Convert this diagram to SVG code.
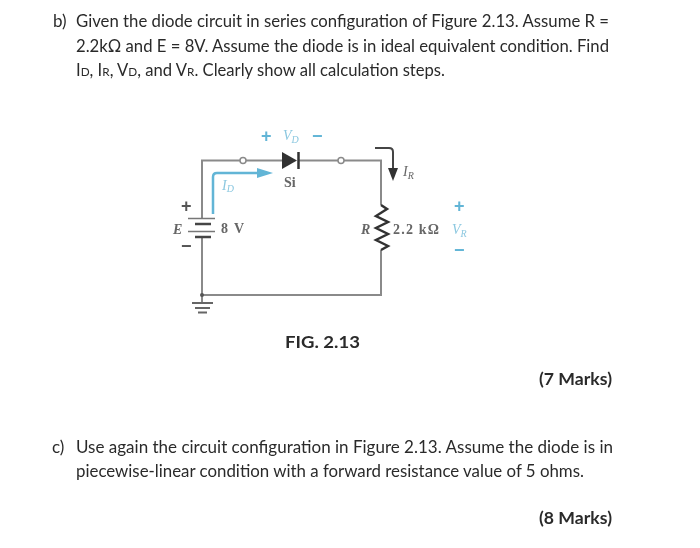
<svg xmlns="http://www.w3.org/2000/svg" width="700" height="548" viewBox="0 0 700 548">
<defs>
<style>
.t{font-family:"Lato","Liberation Sans",sans-serif;font-size:17px;fill:#2a2a2a}
.b{font-weight:700}
.w{fill:none;stroke:#8a8a8a;stroke-width:2}
.s{font-family:"Liberation Serif",serif;font-size:14px;fill:#666}
.i{font-style:italic}
.c{fill:#62b5d6}
.p{font-family:"Liberation Sans",sans-serif;font-weight:700;font-size:18px;fill:#62b5d6}
.k{font-family:"Liberation Sans",sans-serif;font-weight:700;font-size:18px;fill:#555}
.sub{font-size:10px}
</style>
<filter id="soft" x="0" y="0" width="100%" height="100%"><feGaussianBlur stdDeviation="0.4"/></filter>
</defs>
<rect width="700" height="548" fill="#fff"/>
<g filter="url(#soft)">
<g id="question-text">
<text class="t" x="53" y="27">b)</text>
<text class="t" x="76" y="27" textLength="533" lengthAdjust="spacingAndGlyphs">Given the diode circuit in series configuration of Figure 2.13. Assume R =</text>
<text class="t" x="76" y="52" textLength="533" lengthAdjust="spacingAndGlyphs">2.2kΩ and E = 8V. Assume the diode is in ideal equivalent condition. Find</text>
<text class="t" x="76" y="76" textLength="369" lengthAdjust="spacingAndGlyphs">I<tspan font-size="12">D</tspan>, I<tspan font-size="12">R</tspan>, V<tspan font-size="12">D</tspan>, and V<tspan font-size="12">R</tspan>. Clearly show all calculation steps.</text>
<text class="t b" x="539" y="385" textLength="73" lengthAdjust="spacingAndGlyphs">(7 Marks)</text>
<text class="t" x="52" y="453">c)</text>
<text class="t" x="76" y="453" textLength="537" lengthAdjust="spacingAndGlyphs">Use again the circuit configuration in Figure 2.13. Assume the diode is in</text>
<text class="t" x="76" y="477" textLength="508" lengthAdjust="spacingAndGlyphs">piecewise-linear condition with a forward resistance value of 5 ohms.</text>
<text class="t b" x="539" y="524" textLength="73" lengthAdjust="spacingAndGlyphs">(8 Marks)</text>
<text class="t b" x="285" y="348" textLength="75" lengthAdjust="spacingAndGlyphs">FIG. 2.13</text>
</g>
<g id="connectors">
<path class="w" d="M202 218V160.500H240M246 160.500H282M298 160.500H338M344 160.500H381V205M381 250V295H202M202 237V303"/>
</g>
<g id="terminal-1"><circle cx="243" cy="160.500" r="3" fill="#fff" stroke="#8a8a8a" stroke-width="1.500"/></g>
<g id="terminal-2"><circle cx="341" cy="160.500" r="3" fill="#fff" stroke="#8a8a8a" stroke-width="1.500"/></g>
<g id="diode">
<path d="M282 152L297 160.500L282 169Z" fill="#333"/>
<path d="M298.500 152V169" stroke="#333" stroke-width="2.500"/>
<text class="s b" x="284" y="187">Si</text>
<text class="p" x="261" y="142">+</text>
<text class="s i" x="283" y="140" style="fill:#8cc8e0" font-size="15">V<tspan class="sub" dy="3">D</tspan></text>
<text class="p" x="312" y="142">−</text>
</g>
<g id="id-current">
<path d="M213 214V177Q213 173 217 173H260" fill="none" stroke="#62b5d6" stroke-width="2.500"/>
<path d="M257 168L273 173L257 178Z" class="c"/>
<text class="s i" x="222" y="190" style="fill:#8cc8e0">I<tspan class="sub" dy="2">D</tspan></text>
</g>
<g id="battery">
<path d="M188 218.500H215M188 231.500H215" stroke="#777" stroke-width="1.500"/>
<path d="M195 224H211M195 237H211" stroke="#444" stroke-width="2.500"/>
<text class="k" x="181" y="212">+</text>
<text class="k" x="181" y="252">−</text>
<text class="s i b" x="173" y="234">E</text>
<text class="s b" x="221" y="233" textLength="23">8 V</text>
</g>
<g id="ground">
<circle cx="202" cy="295" r="2" fill="#555"/>
<path d="M192 303H213M195 308H210M198 312.500H207" stroke="#666" stroke-width="2.200"/>
</g>
<g id="resistor">
<path d="M381 205L387 209L376 216L388 222L376 228L388 234L376 240L388 246L381 250" fill="none" stroke="#333" stroke-width="2.500"/>
<text class="s i b" x="361" y="234">R</text>
<text class="s b" x="393" y="234" textLength="46">2.2 kΩ</text>
</g>
<g id="ir-current">
<path d="M375 148H389Q393 148 393 152V172" fill="none" stroke="#444" stroke-width="2"/>
<path d="M388 168L393 181L398 168Z" fill="#333"/>
<text class="s i" x="403" y="176">I<tspan class="sub" dy="3">R</tspan></text>
</g>
<g id="vr-label">
<text class="p" x="454" y="212">+</text>
<text class="s i" x="452" y="234" style="fill:#8cc8e0" font-size="15">V<tspan class="sub" dy="3">R</tspan></text>
<text class="p" x="454" y="256">−</text>
</g>
</g>
</svg>
